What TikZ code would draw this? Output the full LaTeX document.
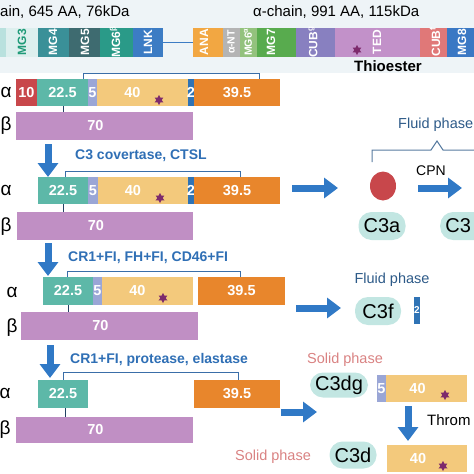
\documentclass[tikz,border=0pt]{standalone}
\usepackage{fontspec}
\setmainfont{Liberation Sans}
\usetikzlibrary{arrows.meta,shapes.geometric}
\definecolor{cRed}{HTML}{C8474B}
\definecolor{cTeal}{HTML}{5DB8A8}
\definecolor{cLav}{HTML}{9AA6D6}
\definecolor{cYel}{HTML}{F3C97C}
\definecolor{cBlue}{HTML}{2F73B5}
\definecolor{cOr}{HTML}{E8862C}
\definecolor{cPur}{HTML}{C08FC4}
\definecolor{cStar}{HTML}{7D2A6C}
\definecolor{cArr}{HTML}{3079C6}
\definecolor{cTxt}{HTML}{2F6FB5}
\definecolor{cPill}{HTML}{C2E6E2}
\definecolor{cFluid}{HTML}{2D5A88}
\definecolor{cSolid}{HTML}{D98282}
\definecolor{cBg}{HTML}{EEF4F7}
\definecolor{cLine}{HTML}{3A6EA8}
\definecolor{dA}{HTML}{B9E1DE}
\definecolor{dMGiii}{HTML}{DDEFEE}
\definecolor{dMGiiiT}{HTML}{1E9A78}
\definecolor{dMGiv}{HTML}{3A9098}
\definecolor{dMGv}{HTML}{3E6B70}
\definecolor{dMGvi}{HTML}{2A9A88}
\definecolor{dLNK}{HTML}{3C7CC4}
\definecolor{dANA}{HTML}{F2A742}
\definecolor{dNT}{HTML}{B4B4B4}
\definecolor{dMGvia}{HTML}{93C27D}
\definecolor{dMGvii}{HTML}{58AB4E}
\definecolor{dCUBg}{HTML}{8880C0}
\definecolor{dTED}{HTML}{C291C9}
\definecolor{dCUBf}{HTML}{E07878}
\definecolor{dMGviii}{HTML}{3A78C4}
\newcommand\segbox[7]{\node[segb,fill=#6,minimum width={(#4-#2)*1pt},minimum height={(#5-#3)*1pt}] (#1) at ({(#2+#4)/2},{(#3+#5)/2}) {#7};}
\begin{document}
\begin{tikzpicture}[x=1pt,y=-1pt,
  segb/.style={rectangle,draw=none,inner sep=0pt,text=white,font=\bfseries\fontsize{14.5}{15}\selectfont},
  dlab/.style={rotate=90,inner sep=0pt,text=white,font=\bfseries\fontsize{12}{12}\selectfont},
  greek/.style={font=\fontsize{19}{20}\selectfont,inner sep=0pt},
  starn/.style={star,star points=6,star point ratio=1.8,fill=cStar,minimum size=10pt,inner sep=0pt},
  bigarrow/.style={draw=cArr,line width=7pt,-{Triangle[width=20pt,length=14pt]}},
  brk/.style={draw=cLine,line width=1pt},
  lnk/.style={draw=cLine!60!black,line width=1pt},
  steptxt/.style={text=cTxt,font=\bfseries\fontsize{14}{15}\selectfont,anchor=west,inner sep=0pt},
  pill/.style={rectangle,fill=cPill,rounded corners=13pt,inner sep=0pt,font=\fontsize{20}{22}\selectfont},
  phase/.style={font=\fontsize{14.5}{15}\selectfont,inner sep=0pt}]
\useasboundingbox (0,0) rectangle (474,474);
\fill[cBg] (0,0) rectangle (474,73);
% titles
\node[anchor=west,inner sep=0pt,font=\fontsize{15}{16}\selectfont] (t1) at (0,12) {ain, 645 AA, 76kDa};
\node[anchor=west,inner sep=0pt,font=\fontsize{15}{16}\selectfont] (t2) at (253,12) {α-chain, 991 AA, 115kDa};
% domain bar
\segbox{d0}{0}{28}{6}{57}{dA}{}
\segbox{d1}{6}{28}{38}{57}{dMGiii}{}
\segbox{d2}{38}{28}{69}{57}{dMGiv}{}
\segbox{d3}{69}{28}{100}{57}{dMGv}{}
\segbox{d4}{100}{28}{133}{57}{dMGvi}{}
\segbox{d5}{133}{28}{163}{57}{dLNK}{}
\segbox{d6}{193}{28}{223}{57}{dANA}{}
\segbox{d7}{223}{28}{240}{57}{dNT}{}
\segbox{d8}{240}{28}{257}{57}{dMGvia}{}
\segbox{d9}{257}{28}{296}{57}{dMGvii}{}
\segbox{d10}{296}{28}{335}{57}{dCUBg}{}
\segbox{d11}{335}{28}{420}{57}{dTED}{}
\segbox{d12}{420}{28}{447}{57}{dCUBf}{}
\segbox{d13}{447}{28}{474}{57}{dMGviii}{}
\draw[draw=dLNK,line width=1.2pt] (d5.east) -- (d6.west);
\node[dlab,text=dMGiiiT] (l1) at (22,42) {MG3};
\node[dlab] (l2) at (53,42) {MG4};
\node[dlab] (l3) at (85,42) {MG5};
\node[dlab] (l4) at (115,42) {MG6\textsuperscript{β}};
\node[dlab] (l5) at (148,42) {LNK};
\node[dlab] (l6) at (204,42) {ANA};
\node[dlab,font=\bfseries\fontsize{10.5}{11}\selectfont] (l7) at (231,42) {α-NT};
\node[dlab,font=\bfseries\fontsize{10.5}{11}\selectfont] (l8) at (248,42) {MG6\textsuperscript{α}};
\node[dlab] (l9) at (271,42) {MG7};
\node[dlab] (l10) at (313,42) {CUB\textsuperscript{g}};
\node[dlab] (l11) at (377,42) {TED};
\node[dlab] (l12) at (435,42) {CUB\textsuperscript{f}};
\node[dlab] (l13) at (462,42) {MG8};
\node[starn] (s0) at (357,50) {};
\node[inner sep=0pt,font=\bfseries\fontsize{15}{16}\selectfont] (thio) at (388,66) {Thioester};
% ---------- row 1
\node[greek] (al1) at (6,92) {α};
\node[greek] (be1) at (6,126) {β};
\segbox{r1a}{16}{79}{37}{106}{cRed}{10}
\segbox{r1b}{37}{79}{88}{106}{cTeal}{22.5}
\segbox{r1c}{88}{79}{97}{106}{cLav}{5}
\segbox{r1d}{97}{79}{188}{106}{cYel}{\hspace*{-20pt}40}
\segbox{r1e}{188}{79}{194}{106}{cBlue}{\makebox[0pt]{2}}
\segbox{r1f}{194}{79}{280}{106}{cOr}{39.5}
\segbox{r1g}{16}{112}{193}{140}{cPur}{\hspace*{-18pt}70}
\node[starn] (s1) at (159,100) {};
\draw[brk] (r1b.north -| 83,0) -- ++(0,-5) -| (r1f.north -| 259,0);
\draw[lnk] (r1b.south -| 63,0) -- (r1g.north -| 63,0);
\coordinate (a1s) at (48,144);
\coordinate (a1e) at (48,177);
\draw[bigarrow] (a1s) -- (a1e);
\node[steptxt] (st1) at (75,156) {C3 covertase, CTSL};
% ---------- row 2
\node[greek] (al2) at (6,190) {α};
\node[greek] (be2) at (6,227) {β};
\segbox{r2b}{38}{177}{88}{204}{cTeal}{22.5}
\segbox{r2c}{88}{177}{98}{204}{cLav}{5}
\segbox{r2d}{98}{177}{188}{204}{cYel}{\hspace*{-20pt}40}
\segbox{r2e}{188}{177}{194}{204}{cBlue}{\makebox[0pt]{2}}
\segbox{r2f}{194}{177}{280}{204}{cOr}{39.5}
\segbox{r2g}{17}{212}{193}{240}{cPur}{\hspace*{-18pt}70}
\node[starn] (s2) at (160,198) {};
\draw[brk] (r2b.north -| 65,0) -- ++(0,-5) -| (r2f.north -| 240,0);
\draw[lnk] (r2b.south -| 63,0) -- (r2g.north -| 63,0);
\coordinate (a2s) at (48,243);
\coordinate (a2e) at (48,276);
\draw[bigarrow] (a2s) -- (a2e);
\node[steptxt] (st2) at (68,258) {CR1+FI, FH+FI, CD46+FI};
% ---------- row 3
\node[greek] (al3) at (12,292) {α};
\node[greek] (be3) at (12,328) {β};
\segbox{r3b}{43}{277}{93}{305}{cTeal}{22.5}
\segbox{r3c}{93}{277}{102}{305}{cLav}{5}
\segbox{r3d}{102}{277}{193}{305}{cYel}{\hspace*{-20pt}40}
\segbox{r3f}{198}{277}{285}{305}{cOr}{39.5}
\segbox{r3g}{21}{312}{198}{340}{cPur}{\hspace*{-18pt}70}
\node[starn] (s3) at (163,298) {};
\draw[brk] (r3b.north -| 67,0) -- ++(0,-5) -| (r3f.north -| 240,0);
\draw[lnk] (r3b.south -| 68,0) -- (r3g.north -| 68,0);
\coordinate (a3s) at (50,345);
\coordinate (a3e) at (50,378);
\draw[bigarrow] (a3s) -- (a3e);
\node[steptxt] (st3) at (70,360) {CR1+FI, protease, elastase};
% ---------- row 4
\node[greek] (al4) at (5,393) {α};
\node[greek] (be4) at (5,430) {β};
\segbox{r4b}{38}{380}{88}{408}{cTeal}{22.5}
\segbox{r4f}{194}{380}{280}{408}{cOr}{39.5}
\segbox{r4g}{16}{417}{193}{443}{cPur}{\hspace*{-18pt}70}
\draw[brk] (r4b.north -| 63,0) -- ++(0,-7) -| (r4f.north -| 238,0);
\draw[lnk] (r4b.south -| 65,0) -- (r4g.north -| 65,0);
% ---------- right: C3a
\coordinate (h2s) at (292,188);
\coordinate (h2e) at (338,188);
\draw[bigarrow] (h2s) -- (h2e);
\node[ellipse,fill=cRed,minimum width=26pt,minimum height=29pt,inner sep=0pt] (c3ab) at (383,186) {};
\node[pill,minimum width=47pt,minimum height=28pt] (c3a) at (382,226) {C3a};
\node[phase,text=cFluid,anchor=west] (fp1) at (398,125) {Fluid phase};
\draw[brk,draw=cFluid!80] (372,162) -- (372,150) -- (431,150) -- (437,141) -- (443,150) -- (480,150);
\node[phase,font=\fontsize{14}{15}\selectfont] (cpn) at (431,171) {CPN};
\node[pill,minimum width=60pt,minimum height=28pt,anchor=west] (c3b) at (440,226) {\hspace*{-24pt}C3};
\coordinate (h3s) at (418,188);
\coordinate (h3e) at (462,188);
\draw[bigarrow] (h3s) -- (h3e);
% ---------- right: C3f
\coordinate (h4s) at (296,308);
\coordinate (h4e) at (341,308);
\draw[bigarrow] (h4s) -- (h4e);
\node[phase,text=cFluid] (fp2) at (392,280) {Fluid phase};
\node[pill,minimum width=46pt,minimum height=28pt] (c3f) at (378,311) {C3f};
\segbox{fr2}{414}{297}{420}{324}{cBlue}{\makebox[0pt]{\fontsize{10}{10}\selectfont 2}}
\node[phase,text=cSolid] (sp1) at (345,360) {Solid phase};
% ---------- right: C3dg
\coordinate (h5s) at (281,412);
\coordinate (h5e) at (317,412);
\draw[bigarrow] (h5s) -- (h5e);
\node[pill,minimum width=58pt,minimum height=25pt] (c3dg) at (339,385) {C3dg};
\segbox{g1}{377}{375}{386}{402}{cLav}{5}
\segbox{g2}{386}{375}{467}{402}{cYel}{\hspace*{-18pt}40}
\node[starn] (s4) at (445,395) {};
\coordinate (v1s) at (408,406);
\coordinate (v1e) at (408,441);
\draw[bigarrow] (v1s) -- (v1e);
\node[phase,anchor=west,font=\fontsize{15}{16}\selectfont] (thr) at (427,420) {Throm};
% ---------- right: C3d
\node[phase,text=cSolid] (sp2) at (273,457) {Solid phase};
\node[pill,minimum width=47pt,minimum height=27pt] (c3d) at (353,455) {C3d};
\segbox{g3}{387}{445}{467}{472}{cYel}{\hspace*{-18pt}40}
\node[starn] (s5) at (443,466) {};
\end{tikzpicture}
\end{document}
